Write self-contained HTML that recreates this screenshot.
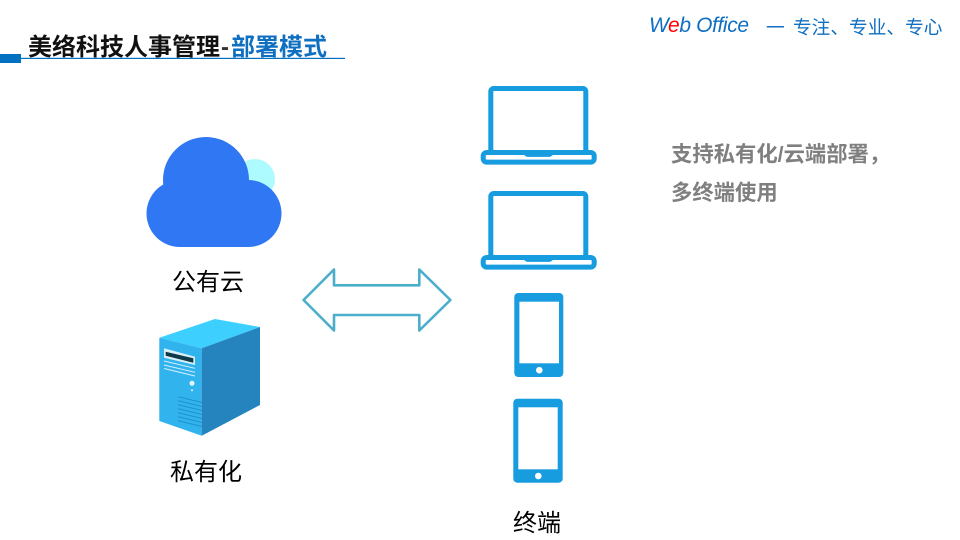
<!DOCTYPE html>
<html lang="zh">
<head>
<meta charset="utf-8">
<title>美络科技人事管理-部署模式</title>
<style>
html,body{margin:0;padding:0;background:#fff;}
body{width:960px;height:540px;overflow:hidden;position:relative;}
svg{position:absolute;left:0;top:0;display:block;}
text{font-family:"Liberation Sans","Noto Sans CJK SC",sans-serif;}
</style>
</head>
<body>
<svg width="960" height="540" viewBox="0 0 960 540" xmlns="http://www.w3.org/2000/svg">
<defs>
<g id="laptop">
<rect x="490.8" y="88.5" width="95" height="64" rx="3" fill="#fff" stroke="#189CE0" stroke-width="5"/>
<rect x="483.2" y="152.5" width="111" height="9.6" rx="3.5" fill="#fff" stroke="#189CE0" stroke-width="5"/>
<path d="M524 152h29v2.5q-1.5 2.4-4 2.4h-21q-2.5 0-4-2.4z" fill="#189CE0"/>
</g>
</defs>

<!-- Header -->
<rect x="0" y="54" width="21" height="9" fill="#0070C0"/>
<rect x="21" y="57.8" width="324" height="1.2" fill="#0070C0"/>
<text x="28" y="55" font-size="24" font-weight="700" fill="#111">美络科技人事管理</text>
<text x="221" y="55" font-size="24" font-weight="700" fill="#333">-</text>
<text x="231" y="55" font-size="24" font-weight="700" fill="#0F6FC0">部署模式</text>

<text x="649" y="32" font-size="21" font-style="italic" fill="#0F6FC0" textLength="100" lengthAdjust="spacing">W<tspan fill="#f00">e</tspan>b Office</text>
<text x="766" y="34" font-size="18.7" fill="#0F6FC0">一</text>
<text x="793" y="34" font-size="18.7" fill="#0F6FC0">专注、专业、专心</text>

<!-- Cloud -->
<circle cx="255" cy="179" r="20" fill="#AEFBFF"/>
<g fill="#3077F3">
<circle cx="206" cy="180" r="43"/>
<rect x="180" y="180" width="68" height="67"/>
<circle cx="180" cy="213.5" r="33.5"/>
<circle cx="248" cy="213.5" r="33.5"/>
</g>
<text x="172" y="290" font-size="24" fill="#000">公有云</text>

<!-- Server -->
<polygon points="159.3,337.7 215,319 260,327 201.7,348.3" fill="#3DD0FF"/>
<polygon points="159.3,337.7 201.7,348.3 201.7,435.7 159.3,421" fill="#31B4EE"/>
<polygon points="201.7,348.3 260,327 260,405 201.7,435.7" fill="#2583BE"/>
<polygon points="164,348.3 195,356.7 195,365 164,357.7" fill="#D8F0FA"/>
<polygon points="165.7,351.7 193.3,358.3 193.3,362.7 165.7,355.7" fill="#103A48"/>
<g stroke="#D8F0FA" stroke-width="1" fill="none">
<line x1="164" y1="361" x2="195" y2="368.3"/>
<line x1="164" y1="365" x2="195" y2="372.3"/>
<line x1="164" y1="368.5" x2="195" y2="376"/>
</g>
<circle cx="192" cy="383.3" r="2.5" fill="#E4F6FD"/>
<circle cx="192" cy="390.3" r="1" fill="#E4F6FD"/>
<g stroke="#1E8FCB" stroke-width="1" fill="none">
<line x1="178" y1="396.7" x2="202" y2="402.5"/>
<line x1="178" y1="400.7" x2="202" y2="406.5"/>
<line x1="178" y1="404.7" x2="202" y2="410.5"/>
<line x1="178" y1="408.7" x2="202" y2="414.5"/>
<line x1="178" y1="412.7" x2="202" y2="418.5"/>
<line x1="178" y1="416.7" x2="202" y2="422.5"/>
<line x1="178" y1="420.7" x2="202" y2="426.5"/>
</g>
<text x="170" y="480" font-size="24" fill="#000">私有化</text>

<!-- Double arrow -->
<polygon points="303.6,300 334,269.5 334,285.3 419.3,285.3 419.3,269.5 450.4,300 419.3,330.5 419.3,315 334,315 334,330.5" fill="#fff" stroke="#4BAECB" stroke-width="2.6" stroke-linejoin="round"/>

<!-- Devices -->
<use href="#laptop"/>
<use href="#laptop" y="105"/>

<rect x="514.3" y="293" width="49" height="84" rx="4" fill="#189CE0"/>
<rect x="519.4" y="301.7" width="39.6" height="61.6" fill="#fff"/>
<circle cx="539.3" cy="370.2" r="3.3" fill="#fff"/>

<rect x="513.3" y="398.7" width="49.4" height="84" rx="4" fill="#189CE0"/>
<rect x="518.3" y="407.3" width="39.4" height="62" fill="#fff"/>
<circle cx="538.3" cy="476" r="3.3" fill="#fff"/>

<text x="513" y="531" font-size="24" fill="#000">终端</text>

<!-- Description -->
<text x="671" y="161.5" font-size="21.33" font-weight="700" fill="#7F7F7F">支持私有化/云端部署，</text>
<text x="671" y="200" font-size="21.33" font-weight="700" fill="#7F7F7F">多终端使用</text>
</svg>
</body>
</html>
